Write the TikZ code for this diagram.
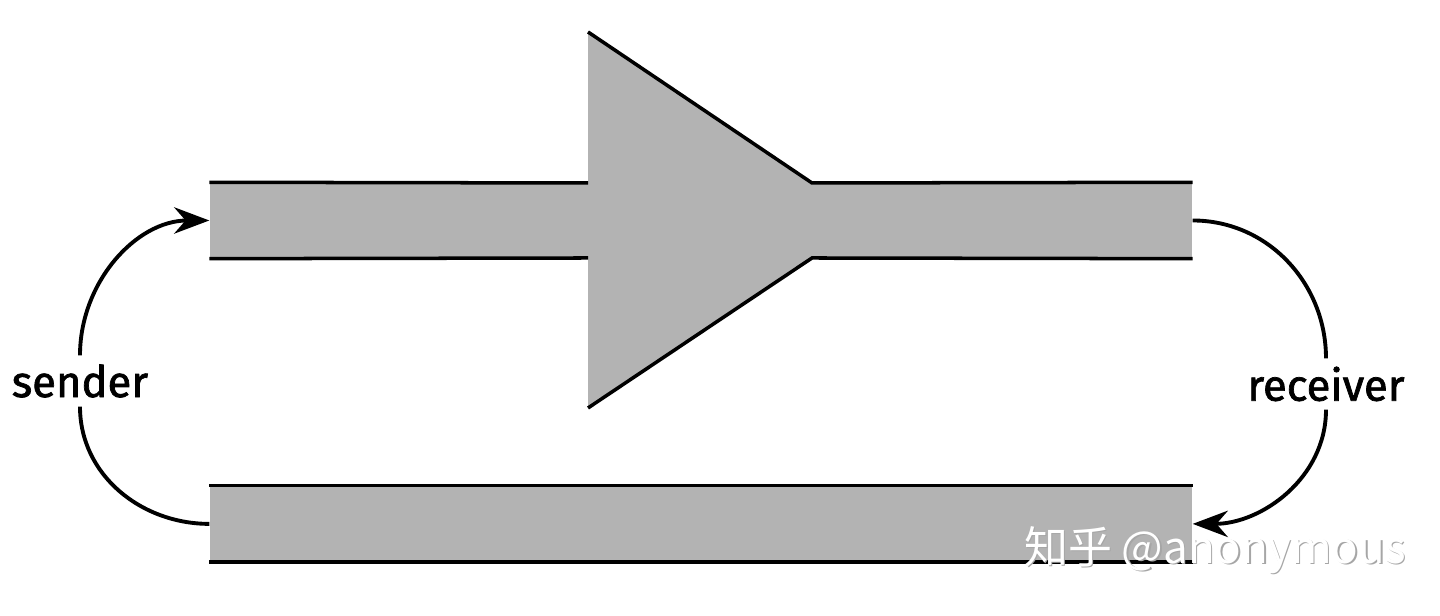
\documentclass[tikz,border=0pt]{standalone}
\usepackage{fontspec}
\setmainfont{Fira Sans}
\newfontfamily\lblfont{Fira Sans}[FakeBold=1.6]
\newfontfamily\cjk{Noto Sans CJK SC}
\usepackage{tikz}
\usetikzlibrary{arrows.meta,positioning}
\definecolor{pipe}{RGB}{179,179,179}
\tikzset{bar/.style={rectangle,fill=pipe,minimum width=9.82cm,minimum height=0.75cm,inner sep=0pt},
         edge line/.style={line width=1pt},
         conn/.style={line width=1.1pt},
         lbl/.style={inner sep=0pt,minimum height=0.5cm,font=\lblfont\fontsize{12.4}{15}\selectfont}}

\begin{document}
\begin{tikzpicture}
  \useasboundingbox (0,0) rectangle (14.4,6.16);
  \node[bar] (top) at (7.01,3.955) {};
  \node[bar,below=2.27cm of top] (bot) {};
  % the amplifier
  \fill[pipe] (5.88,5.84) -- (8.12,4.33) -- (8.12,3.58) -- (5.88,2.08) -- cycle;
  \draw[edge line] (5.88,5.84) -- (8.12,4.33) -- (top.north east);
  \draw[edge line] (5.88,2.08) -- (8.12,3.58) -- (top.south east);
  \draw[edge line] (top.north west) -- (5.88,4.33);
  \draw[edge line] (top.south west) -- (5.88,3.58);
  \draw[edge line] (bot.north west) -- (bot.north east);
  \draw[edge line] (bot.south west) -- (bot.south east);
  % feedback
  \node[lbl] (snd) at (0.80,2.35) {sender};
  \node[lbl] (rcv) at (13.26,2.32) {receiver};
  \draw[conn] (bot.west) to[out=180,in=-90] (snd.south);
  \draw[conn,-{Stealth[length=10pt,width=7.5pt]}] (snd.north) to[out=90,in=180] (top.west);
  \draw[conn] (top.east) to[out=0,in=90] (rcv.north);
  \draw[conn,-{Stealth[length=10pt,width=7.5pt]}] (rcv.south) to[out=-90,in=0] (bot.east);
  % watermark
  \node[text=gray!70,font=\cjk\fontsize{12.5}{14}\selectfont] (wms) at ([xshift=0.4pt,yshift=-0.4pt]12.15,0.66) {知乎 @anonymous};
  \node[text=white,font=\cjk\fontsize{12.5}{14}\selectfont] (wm) at (12.15,0.66) {知乎 @anonymous};
\end{tikzpicture}
\end{document}
